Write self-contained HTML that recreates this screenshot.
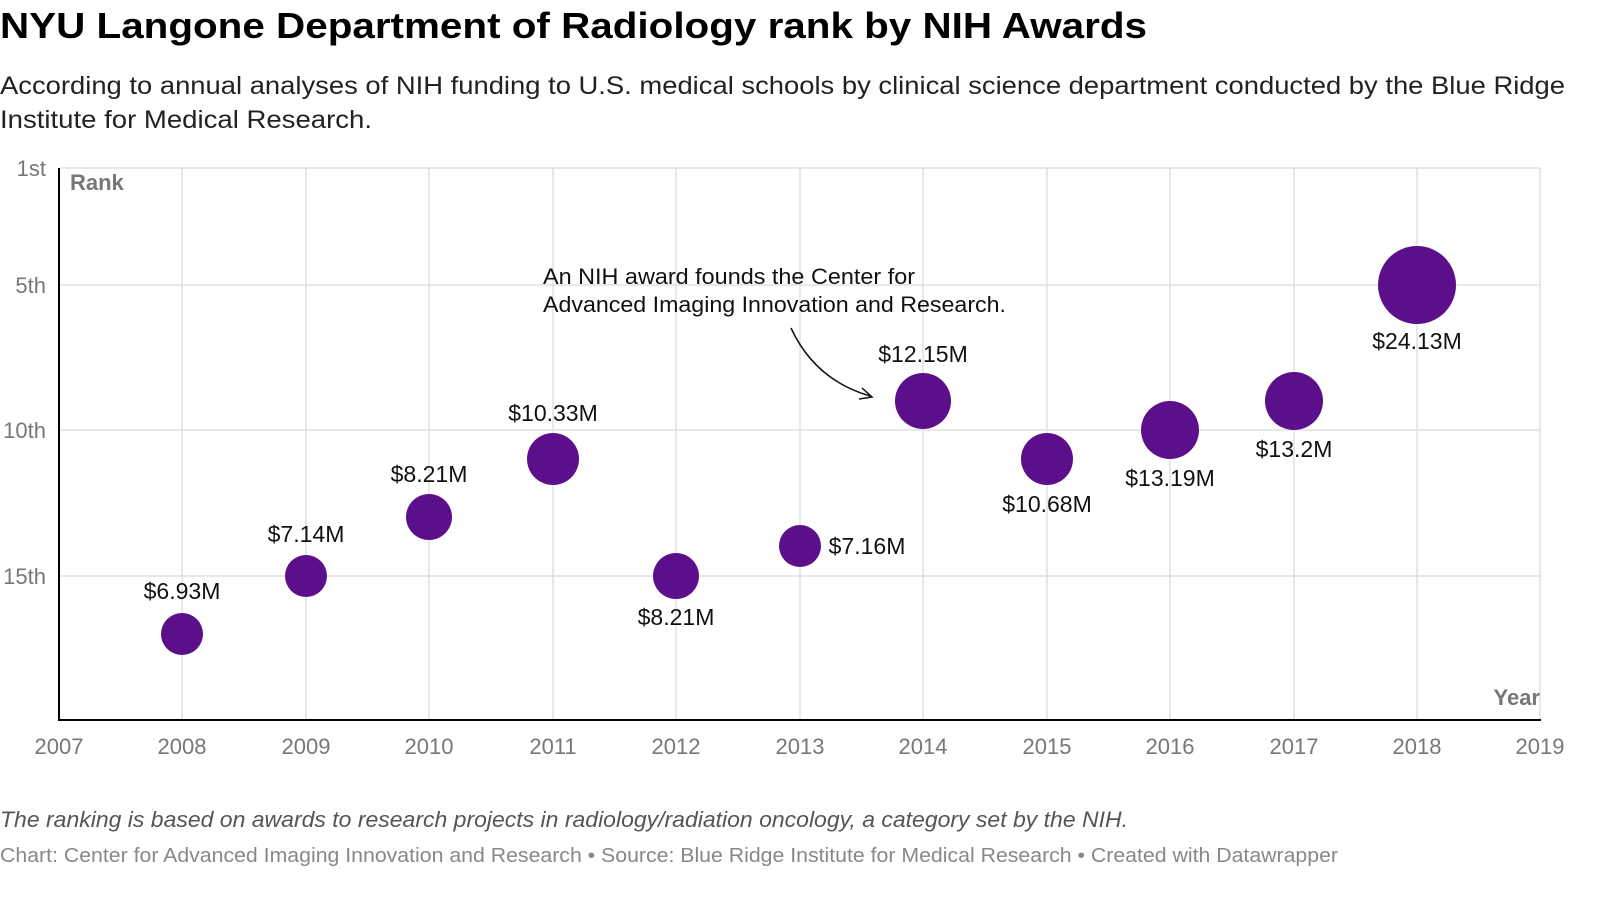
<!DOCTYPE html>
<html><head><meta charset="utf-8"><style>
body{margin:0;width:1600px;height:900px;background:#fff;font-family:"Liberation Sans",sans-serif;overflow:hidden}
</style></head><body>
<svg width="1600" height="900" xmlns="http://www.w3.org/2000/svg" font-family="Liberation Sans, sans-serif">
<text x="0" y="38" font-size="36" font-weight="bold" fill="#000" textLength="1147" lengthAdjust="spacingAndGlyphs">NYU Langone Department of Radiology rank by NIH Awards</text>
<text x="0" y="94" font-size="25" fill="#222" textLength="1565" lengthAdjust="spacingAndGlyphs">According to annual analyses of NIH funding to U.S. medical schools by clinical science department conducted by the Blue Ridge</text>
<text x="0" y="128" font-size="25" fill="#222" textLength="372" lengthAdjust="spacingAndGlyphs">Institute for Medical Research.</text>
<g stroke="#e0e0e0" stroke-width="1.5">
<line x1="59" y1="168" x2="1540" y2="168"/><line x1="59" y1="285" x2="1540" y2="285"/>
<line x1="59" y1="430" x2="1540" y2="430"/><line x1="59" y1="576" x2="1540" y2="576"/>
<line x1="182" y1="168" x2="182" y2="720"/><line x1="306" y1="168" x2="306" y2="720"/>
<line x1="429" y1="168" x2="429" y2="720"/><line x1="553" y1="168" x2="553" y2="720"/>
<line x1="676" y1="168" x2="676" y2="720"/><line x1="800" y1="168" x2="800" y2="720"/>
<line x1="923" y1="168" x2="923" y2="720"/><line x1="1047" y1="168" x2="1047" y2="720"/>
<line x1="1170" y1="168" x2="1170" y2="720"/><line x1="1294" y1="168" x2="1294" y2="720"/>
<line x1="1417" y1="168" x2="1417" y2="720"/><line x1="1540" y1="168" x2="1540" y2="720"/>
</g>
<line x1="59" y1="168" x2="59" y2="721" stroke="#000" stroke-width="2"/>
<line x1="58" y1="720" x2="1541" y2="720" stroke="#000" stroke-width="2"/>
<g font-size="22" fill="#777">
<text x="46" y="176" text-anchor="end">1st</text><text x="46" y="293" text-anchor="end">5th</text>
<text x="46" y="438" text-anchor="end">10th</text><text x="46" y="584" text-anchor="end">15th</text>
</g>
<g font-size="22" fill="#777" text-anchor="middle">
<text x="59" y="754">2007</text><text x="182" y="754">2008</text><text x="306" y="754">2009</text><text x="429" y="754">2010</text><text x="553" y="754">2011</text><text x="676" y="754">2012</text><text x="800" y="754">2013</text><text x="923" y="754">2014</text><text x="1047" y="754">2015</text><text x="1170" y="754">2016</text><text x="1294" y="754">2017</text><text x="1417" y="754">2018</text><text x="1540" y="754">2019</text>
</g>
<text x="70" y="190" font-size="22" font-weight="bold" fill="#777">Rank</text>
<text x="1540" y="705" font-size="22" font-weight="bold" fill="#777" text-anchor="end">Year</text>
<g fill="#5c0f8b">
<circle cx="182" cy="634" r="21"/><circle cx="306" cy="576" r="21"/><circle cx="429" cy="517" r="23"/>
<circle cx="553" cy="459" r="26"/><circle cx="676" cy="576" r="23"/><circle cx="800" cy="546" r="21"/>
<circle cx="923" cy="401" r="28"/><circle cx="1047" cy="459" r="26"/><circle cx="1170" cy="430" r="29"/>
<circle cx="1294" cy="401" r="29"/><circle cx="1417" cy="285" r="39"/>
</g>
<g font-size="23" fill="#111" text-anchor="middle">
<text x="182" y="599">$6.93M</text><text x="306" y="542">$7.14M</text><text x="429" y="482">$8.21M</text>
<text x="553" y="421">$10.33M</text><text x="676" y="625">$8.21M</text><text x="867" y="554">$7.16M</text>
<text x="923" y="362">$12.15M</text><text x="1047" y="512">$10.68M</text><text x="1170" y="486">$13.19M</text>
<text x="1294" y="457">$13.2M</text><text x="1417" y="349">$24.13M</text>
</g>
<text x="543" y="284" font-size="22" fill="#111" textLength="372" lengthAdjust="spacingAndGlyphs">An NIH award founds the Center for</text>
<text x="543" y="312" font-size="22" fill="#111" textLength="463" lengthAdjust="spacingAndGlyphs">Advanced Imaging Innovation and Research.</text>
<path d="M791 328 Q815 380 870 396" fill="none" stroke="#111" stroke-width="1.5"/>
<path d="M862 388 L872 397 L859 399" fill="none" stroke="#111" stroke-width="1.5"/>
<text x="0" y="827" font-size="22" font-style="italic" fill="#555" textLength="1128" lengthAdjust="spacingAndGlyphs">The ranking is based on awards to research projects in radiology/radiation oncology, a category set by the NIH.</text>
<text x="0" y="862" font-size="20" fill="#888" textLength="1338" lengthAdjust="spacingAndGlyphs">Chart: Center for Advanced Imaging Innovation and Research • Source: Blue Ridge Institute for Medical Research • Created with Datawrapper</text>
</svg>
</body></html>
